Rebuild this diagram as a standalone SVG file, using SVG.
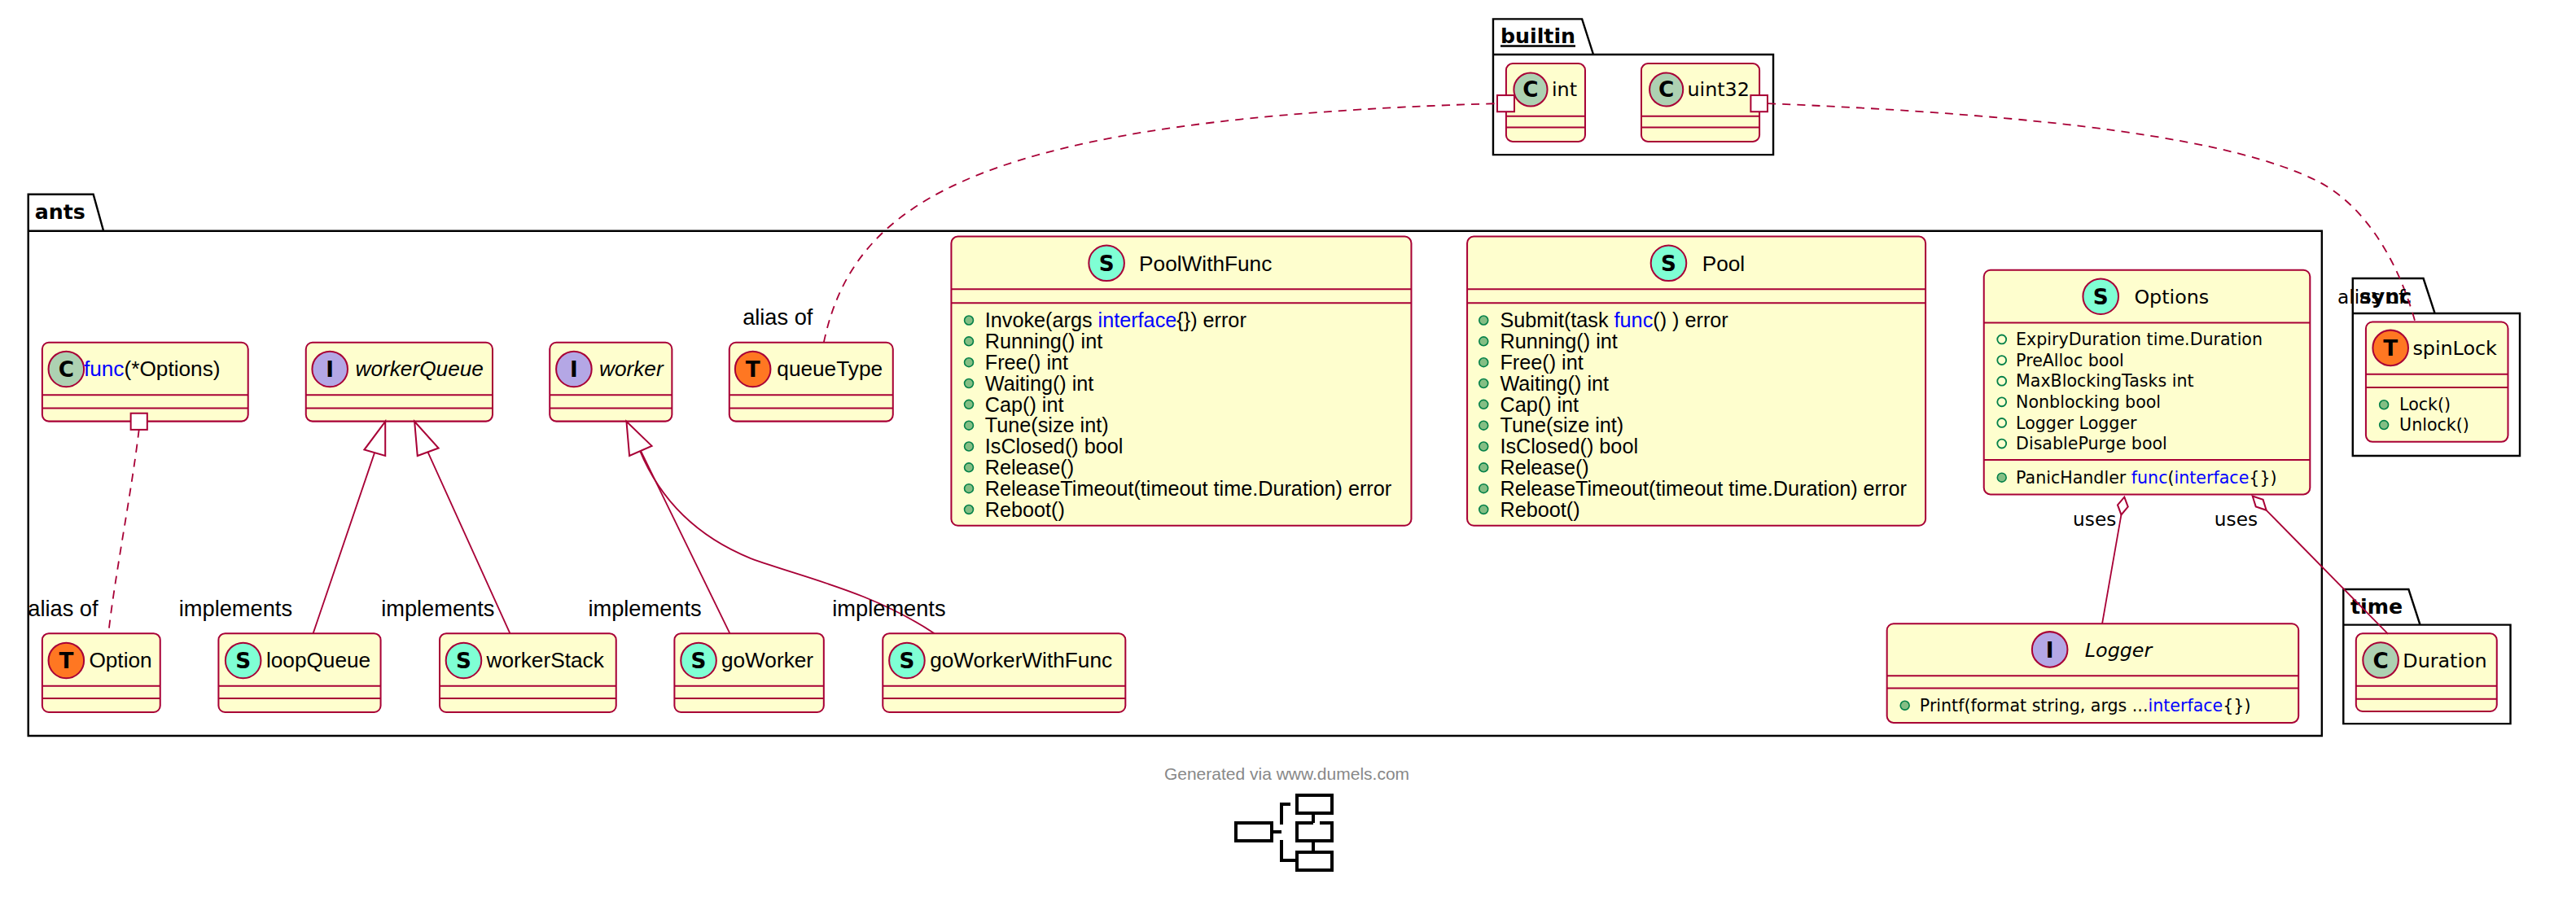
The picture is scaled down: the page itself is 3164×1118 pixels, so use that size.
<svg xmlns="http://www.w3.org/2000/svg" width="3164" height="1118" viewBox="0 0 3164 1118">
<style>
.box{fill:#FEFECE;stroke:#A80036;stroke-width:1}
.sep{stroke:#A80036;stroke-width:1}
.pkg{fill:none;stroke:#000;stroke-width:1.2}
.pkgt{font-family:"DejaVu Sans",sans-serif;font-weight:bold;font-size:12.5px;fill:#000}
.cn{font-family:"Liberation Sans",sans-serif;font-size:13px;fill:#000}
.cnd{font-family:"DejaVu Sans",sans-serif;font-size:11.8px;fill:#000}
.it{font-style:italic}
.m{font-family:"Liberation Sans",sans-serif;font-size:12.5px;fill:#000}
.md{font-family:"DejaVu Sans",sans-serif;font-size:10.2px;fill:#000}
.kw{fill:#0000FF}
.lbl{font-family:"Liberation Sans",sans-serif;font-size:13.5px;fill:#000}
.lbld{font-family:"DejaVu Sans",sans-serif;font-size:11.5px;fill:#000}
.ic{stroke:#A80036;stroke-width:1}
.icC{fill:#ADD1B2}.icI{fill:#B4A7E5}.icS{fill:#7FFFD4}.icT{fill:#FF7722}
.il{font-family:"DejaVu Sans",sans-serif;font-weight:bold;font-size:13px;fill:#000;text-anchor:middle}
.pub{fill:#84BE84;stroke:#038048;stroke-width:0.8}
.fld{fill:none;stroke:#038048;stroke-width:0.9}
.ln{fill:none;stroke:#A80036;stroke-width:0.9}
.dash{fill:none;stroke:#A80036;stroke-width:0.9;stroke-dasharray:5,4}
.hol{fill:#fff;stroke:#A80036;stroke-width:1}
</style>
<g transform="scale(2.018)">
<g id="pkg-builtin">
<path class="pkg" d="M908.8,33.2 V11.6 H962.9 L969.8,33.2 M908.8,33.2 H1079.3 V94.2 H908.8 Z"/>
<text class="pkgt" x="913.3" y="26.4" text-decoration="underline">builtin</text>
</g>
<g id="pkg-ants">
<path class="pkg" d="M17.2,140.6 V118.3 H56.8 L63,140.6 M17.2,140.6 H1413.2 V448 H17.2 Z"/>
<text class="pkgt" x="21.2" y="133.3">ants</text>
</g>
<g id="pkg-sync">
<path class="pkg" d="M1432,190.8 V169.5 H1475 L1482,190.8 M1432,190.8 H1533.7 V277.5 H1432 Z"/>
<text class="pkgt" x="1436" y="184.7">sync</text>
</g>
<g id="pkg-time">
<path class="pkg" d="M1426.3,380.4 V358.8 H1466 L1473,380.4 M1426.3,380.4 H1528 V440.6 H1426.3 Z"/>
<text class="pkgt" x="1430.6" y="373.4">time</text>
</g>

<g id="int">
<rect class="box" x="916.7" y="38.7" width="48.1" height="47.5" rx="4"/>
<line class="sep" x1="916.7" y1="70.7" x2="964.8" y2="70.7"/><line class="sep" x1="916.7" y1="77.6" x2="964.8" y2="77.6"/>
<circle class="ic icC" cx="931.6" cy="54.5" r="10.2"/><text class="il" x="931.6" y="59.2">C</text>
<text class="cnd" x="944.5" y="58.5">int</text>
</g>
<g id="uint32">
<rect class="box" x="999" y="38.7" width="71.9" height="47.5" rx="4"/>
<line class="sep" x1="999" y1="70.7" x2="1070.9" y2="70.7"/><line class="sep" x1="999" y1="77.6" x2="1070.9" y2="77.6"/>
<circle class="ic icC" cx="1014.2" cy="54.5" r="10.2"/><text class="il" x="1014.2" y="59.2">C</text>
<text class="cnd" x="1027" y="58.5">uint32</text>
</g>

<g id="funcOptions">
<rect class="box" x="25.7" y="208.5" width="125.3" height="48" rx="4"/>
<line class="sep" x1="25.7" y1="240.5" x2="151" y2="240.5"/><line class="sep" x1="25.7" y1="248.5" x2="151" y2="248.5"/>
<circle class="ic icC" cx="40.3" cy="224.7" r="10.8"/><text class="il" x="40.3" y="229.5">C</text>
<text class="cn" x="51" y="229"><tspan class="kw">func</tspan>(*Options)</text>
</g>
<g id="workerQueue">
<rect class="box" x="186.2" y="208.5" width="113.6" height="48" rx="4"/>
<line class="sep" x1="186.2" y1="240.5" x2="299.8" y2="240.5"/><line class="sep" x1="186.2" y1="248.5" x2="299.8" y2="248.5"/>
<circle class="ic icI" cx="200.8" cy="224.7" r="10.8"/><text class="il" x="200.8" y="229.5">I</text>
<text class="cn it" x="216.3" y="229">workerQueue</text>
</g>
<g id="worker">
<rect class="box" x="334.6" y="208.5" width="74.4" height="48" rx="4"/>
<line class="sep" x1="334.6" y1="240.5" x2="409" y2="240.5"/><line class="sep" x1="334.6" y1="248.5" x2="409" y2="248.5"/>
<circle class="ic icI" cx="349.3" cy="224.7" r="10.8"/><text class="il" x="349.3" y="229.5">I</text>
<text class="cn it" x="364.7" y="229">worker</text>
</g>
<g id="queueType">
<rect class="box" x="443.9" y="208.5" width="99.6" height="48" rx="4"/>
<line class="sep" x1="443.9" y1="240.5" x2="543.5" y2="240.5"/><line class="sep" x1="443.9" y1="248.5" x2="543.5" y2="248.5"/>
<circle class="ic icT" cx="458.2" cy="224.7" r="10.8"/><text class="il" x="458.2" y="229.5">T</text>
<text class="cn" x="472.9" y="229">queueType</text>
</g>

<g id="Option">
<rect class="box" x="25.7" y="385.6" width="71.8" height="48" rx="4"/>
<line class="sep" x1="25.7" y1="417.6" x2="97.5" y2="417.6"/><line class="sep" x1="25.7" y1="425.2" x2="97.5" y2="425.2"/>
<circle class="ic icT" cx="40.3" cy="402.1" r="10.8"/><text class="il" x="40.3" y="406.9">T</text>
<text class="cn" x="54.2" y="406.5">Option</text>
</g>
<g id="loopQueue">
<rect class="box" x="133" y="385.6" width="98.7" height="48" rx="4"/>
<line class="sep" x1="133" y1="417.6" x2="231.7" y2="417.6"/><line class="sep" x1="133" y1="425.2" x2="231.7" y2="425.2"/>
<circle class="ic icS" cx="148" cy="402.1" r="10.8"/><text class="il" x="148" y="406.9">S</text>
<text class="cn" x="162" y="406.5">loopQueue</text>
</g>
<g id="workerStack">
<rect class="box" x="267.6" y="385.6" width="107.4" height="48" rx="4"/>
<line class="sep" x1="267.6" y1="417.6" x2="375" y2="417.6"/><line class="sep" x1="267.6" y1="425.2" x2="375" y2="425.2"/>
<circle class="ic icS" cx="282.2" cy="402.1" r="10.8"/><text class="il" x="282.2" y="406.9">S</text>
<text class="cn" x="296.1" y="406.5">workerStack</text>
</g>
<g id="goWorker">
<rect class="box" x="410.5" y="385.6" width="90.9" height="48" rx="4"/>
<line class="sep" x1="410.5" y1="417.6" x2="501.4" y2="417.6"/><line class="sep" x1="410.5" y1="425.2" x2="501.4" y2="425.2"/>
<circle class="ic icS" cx="425.2" cy="402.1" r="10.8"/><text class="il" x="425.2" y="406.9">S</text>
<text class="cn" x="439" y="406.5">goWorker</text>
</g>
<g id="goWorkerWithFunc">
<rect class="box" x="537.3" y="385.6" width="147.7" height="48" rx="4"/>
<line class="sep" x1="537.3" y1="417.6" x2="685" y2="417.6"/><line class="sep" x1="537.3" y1="425.2" x2="685" y2="425.2"/>
<circle class="ic icS" cx="552" cy="402.1" r="10.8"/><text class="il" x="552" y="406.9">S</text>
<text class="cn" x="566" y="406.5">goWorkerWithFunc</text>
</g>

<g id="PoolWithFunc">
<rect class="box" x="579" y="144" width="280" height="176" rx="4"/>
<line class="sep" x1="579" y1="176" x2="859" y2="176"/><line class="sep" x1="579" y1="184.5" x2="859" y2="184.5"/>
<circle class="ic icS" cx="673.5" cy="160.2" r="10.8"/><text class="il" x="673.5" y="165">S</text>
<text class="cn" x="693.3" y="165">PoolWithFunc</text>
<g class="pub"><circle cx="589.7" cy="195" r="2.7"/><circle cx="589.7" cy="207.8" r="2.7"/><circle cx="589.7" cy="220.6" r="2.7"/><circle cx="589.7" cy="233.4" r="2.7"/><circle cx="589.7" cy="246.2" r="2.7"/><circle cx="589.7" cy="259" r="2.7"/><circle cx="589.7" cy="271.8" r="2.7"/><circle cx="589.7" cy="284.6" r="2.7"/><circle cx="589.7" cy="297.4" r="2.7"/><circle cx="589.7" cy="310.2" r="2.7"/></g>
<text class="m" x="599.5" y="199.3">Invoke(args <tspan class="kw">interface</tspan>{}) error</text>
<text class="m" x="599.5" y="212.1">Running() int</text>
<text class="m" x="599.5" y="224.9">Free() int</text>
<text class="m" x="599.5" y="237.7">Waiting() int</text>
<text class="m" x="599.5" y="250.5">Cap() int</text>
<text class="m" x="599.5" y="263.3">Tune(size int)</text>
<text class="m" x="599.5" y="276.1">IsClosed() bool</text>
<text class="m" x="599.5" y="288.9">Release()</text>
<text class="m" x="599.5" y="301.7">ReleaseTimeout(timeout time.Duration) error</text>
<text class="m" x="599.5" y="314.5">Reboot()</text>
</g>
<g id="Pool">
<rect class="box" x="893" y="144" width="279" height="176" rx="4"/>
<line class="sep" x1="893" y1="176" x2="1172" y2="176"/><line class="sep" x1="893" y1="184.5" x2="1172" y2="184.5"/>
<circle class="ic icS" cx="1015.6" cy="160.2" r="10.8"/><text class="il" x="1015.6" y="165">S</text>
<text class="cn" x="1036" y="165">Pool</text>
<g class="pub"><circle cx="903" cy="195" r="2.7"/><circle cx="903" cy="207.8" r="2.7"/><circle cx="903" cy="220.6" r="2.7"/><circle cx="903" cy="233.4" r="2.7"/><circle cx="903" cy="246.2" r="2.7"/><circle cx="903" cy="259" r="2.7"/><circle cx="903" cy="271.8" r="2.7"/><circle cx="903" cy="284.6" r="2.7"/><circle cx="903" cy="297.4" r="2.7"/><circle cx="903" cy="310.2" r="2.7"/></g>
<text class="m" x="913" y="199.3">Submit(task <tspan class="kw">func</tspan>() ) error</text>
<text class="m" x="913" y="212.1">Running() int</text>
<text class="m" x="913" y="224.9">Free() int</text>
<text class="m" x="913" y="237.7">Waiting() int</text>
<text class="m" x="913" y="250.5">Cap() int</text>
<text class="m" x="913" y="263.3">Tune(size int)</text>
<text class="m" x="913" y="276.1">IsClosed() bool</text>
<text class="m" x="913" y="288.9">Release()</text>
<text class="m" x="913" y="301.7">ReleaseTimeout(timeout time.Duration) error</text>
<text class="m" x="913" y="314.5">Reboot()</text>
</g>
<g id="Options">
<rect class="box" x="1207.5" y="164.4" width="198.5" height="136.6" rx="4"/>
<line class="sep" x1="1207.5" y1="196.5" x2="1406" y2="196.5"/><line class="sep" x1="1207.5" y1="280" x2="1406" y2="280"/>
<circle class="ic icS" cx="1278.6" cy="180.5" r="10.8"/><text class="il" x="1278.6" y="185.3">S</text>
<text class="cnd" x="1299" y="185">Options</text>
<g class="fld"><circle cx="1218.4" cy="206.6" r="2.7"/><circle cx="1218.4" cy="219.3" r="2.7"/><circle cx="1218.4" cy="232" r="2.7"/><circle cx="1218.4" cy="244.7" r="2.7"/><circle cx="1218.4" cy="257.4" r="2.7"/><circle cx="1218.4" cy="270.1" r="2.7"/></g>
<text class="md" x="1227" y="210.2">ExpiryDuration time.Duration</text>
<text class="md" x="1227" y="222.9">PreAlloc bool</text>
<text class="md" x="1227" y="235.6">MaxBlockingTasks int</text>
<text class="md" x="1227" y="248.3">Nonblocking bool</text>
<text class="md" x="1227" y="261">Logger Logger</text>
<text class="md" x="1227" y="273.7">DisablePurge bool</text>
<circle class="pub" cx="1218.4" cy="290.7" r="2.7"/>
<text class="md" x="1227" y="294.3">PanicHandler <tspan class="kw">func</tspan>(<tspan class="kw">interface</tspan>{})</text>
</g>
<g id="Logger">
<rect class="box" x="1148.5" y="379.7" width="250.5" height="60.3" rx="4"/>
<line class="sep" x1="1148.5" y1="411.4" x2="1399" y2="411.4"/><line class="sep" x1="1148.5" y1="419" x2="1399" y2="419"/>
<circle class="ic icI" cx="1247.6" cy="395.4" r="10.8"/><text class="il" x="1247.6" y="400.2">I</text>
<text class="cnd it" x="1269" y="400">Logger</text>
<circle class="pub" cx="1159.4" cy="429.5" r="2.7"/>
<text class="md" x="1168.4" y="433.1">Printf(format string, args ...<tspan class="kw">interface</tspan>{})</text>
</g>
<g id="spinLock">
<rect class="box" x="1440" y="196" width="86.5" height="73" rx="4"/>
<line class="sep" x1="1440" y1="227.8" x2="1526.5" y2="227.8"/><line class="sep" x1="1440" y1="235.9" x2="1526.5" y2="235.9"/>
<circle class="ic icT" cx="1455" cy="211.8" r="10.8"/><text class="il" x="1455" y="216.6">T</text>
<text class="cnd" x="1468.5" y="216">spinLock</text>
<circle class="pub" cx="1451" cy="246.4" r="2.7"/><circle class="pub" cx="1451" cy="258.7" r="2.7"/>
<text class="md" x="1460.4" y="250">Lock()</text>
<text class="md" x="1460.4" y="262.3">Unlock()</text>
</g>
<g id="Duration">
<rect class="box" x="1434" y="385.7" width="85.7" height="47.4" rx="4"/>
<line class="sep" x1="1434" y1="417.6" x2="1519.7" y2="417.6"/><line class="sep" x1="1434" y1="425.5" x2="1519.7" y2="425.5"/>
<circle class="ic icC" cx="1449" cy="401.9" r="10.8"/><text class="il" x="1449" y="406.7">C</text>
<text class="cnd" x="1462.5" y="406.5">Duration</text>
</g>

<g id="connectors">
<path class="dash" d="M84.6,261.6 C80,300 70,350 66,385.6"/>
<rect class="hol" x="79.6" y="251.6" width="10" height="10"/>
<path class="dash" d="M501.4,208.5 C520,120 600,72 911.3,63"/>
<rect class="hol" x="911.3" y="58" width="10.4" height="10"/>
<path class="dash" d="M1075.8,63 C1250,70 1360,85 1410,110 C1440,125 1460,160 1470,196"/>
<rect class="hol" x="1065.6" y="58" width="10.2" height="10"/>
<path class="ln" d="M228,275.6 L190.6,385.6"/>
<path class="hol" d="M234.5,256.6 L221.7,273.8 L234.5,277.5 Z"/>
<path class="ln" d="M260.3,275 L310.4,385.6"/>
<path class="hol" d="M252.3,256.6 L254.1,277.5 L266.9,272.8 Z"/>
<path class="ln" d="M390,274.5 L444.2,385.6"/>
<path class="ln" d="M389.3,274 C400,300 420,325 457,340 C490,352 530,360 568.7,385.6"/>
<path class="hol" d="M381.3,256.6 L383.1,277.5 L396.7,271.5 Z"/>
<path class="ln" d="M1291.1,313.4 L1279.5,379.7"/>
<path class="hol" d="M1293,302.6 L1295.2,308.55 L1291.1,313.4 L1288.9,307.45 Z"/>
<path class="ln" d="M1379.4,310.6 L1453.5,386"/>
<path class="hol" d="M1371,302 L1377.4,304.2 L1379.4,310.6 L1373,308.4 Z"/>
<text class="lbl" x="452" y="197.5">alias of</text>
<text class="lbl" x="17" y="375">alias of</text>
<text class="lbl" x="108.9" y="375">implements</text>
<text class="lbl" x="232" y="375">implements</text>
<text class="lbl" x="358" y="375">implements</text>
<text class="lbl" x="506.6" y="375">implements</text>
<text class="lbld" x="1261.7" y="320">uses</text>
<text class="lbld" x="1347.8" y="320">uses</text>
<text class="lbld" x="1422.7" y="184.7">alias of</text>
</g>
</g>
<g id="footer">
<text x="1580.5" y="958" text-anchor="middle" font-family="'Liberation Sans',sans-serif" font-size="21" fill="#888">Generated via www.dumels.com</text>
<g fill="none" stroke="#000" stroke-width="4">
<rect x="1518" y="1011" width="44" height="22"/>
<rect x="1593" y="977" width="43" height="22"/>
<path d="M1613,1011 H1593 V1033 H1636 V1011 H1621"/>
<rect x="1593" y="1047" width="43" height="22"/>
<path d="M1562,1022 H1574 M1574,1013 V988 H1585 M1574,1032 V1057 H1593 M1613,999 V1011 M1613,1033 V1047"/>
</g>
</g>
</svg>
